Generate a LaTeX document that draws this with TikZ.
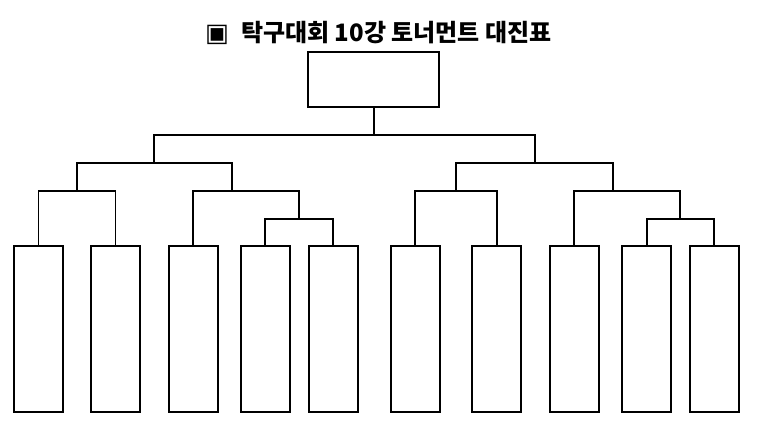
\documentclass[tikz,border=0pt]{standalone}
\usepackage{fontspec}
\newfontfamily\krfont{Noto Sans CJK KR}
\newfontfamily\symfont{DejaVu Sans}
\begin{document}
\begin{tikzpicture}[x=0.75pt,y=-0.75pt,
  line width=1.4pt,
  leaf/.style={draw=black,rectangle,inner sep=0pt,minimum width=36.75pt,minimum height=124.5pt},
  topbox/.style={draw=black,rectangle,inner sep=0pt,minimum width=98.25pt,minimum height=41.25pt},
  wire/.style={draw=black,line width=1.4pt},
  titlefont/.style={font=\krfont\bfseries\fontsize{18}{20}\selectfont}]
\fill[white] (0,0) rectangle (773,429);
\useasboundingbox (0,0) rectangle (773,429);
% title
\node[titlefont,anchor=center,inner sep=0pt] (title) at (378.5,33) {{\symfont\fontsize{19}{20}\selectfont ▣}\hspace{9pt}탁구대회 10강 토너먼트 대진표};
% top box
\node[topbox] (T) at (373.8,79.8) {};
% leaf boxes
\node[leaf] (L1) at (38.5,329.2) {};
\node[leaf] (L2) at (115.5,329.2) {};
\node[leaf] (L3) at (193.2,329.2) {};
\node[leaf] (L4) at (265.3,329.2) {};
\node[leaf] (L5) at (333.2,329.2) {};
\node[leaf] (R1) at (415.2,329.2) {};
\node[leaf] (R2) at (496.8,329.2) {};
\node[leaf] (R3) at (574.1,329.2) {};
\node[leaf] (R4) at (646.6,329.2) {};
\node[leaf] (R5) at (714.1,329.2) {};
% junctions
\coordinate (jL4) at (299.3,218.7);
\coordinate (jL3a) at (77,191);
\coordinate (jL3b) at (231.7,191);
\coordinate (jL2) at (154,163.3);
\coordinate (jR4) at (680.3,218.7);
\coordinate (jR3a) at (456,191);
\coordinate (jR3b) at (613.3,191);
\coordinate (jR2) at (535.3,163.3);
\coordinate (jTop) at (T.south |- 0,135.3);
% left half
\draw[wire] (L4.north) |- (jL4) -| (L5.north);
\draw[wire] (L3.north) |- (jL3b) -| (jL4);
\draw[wire] (L1.north) |- (jL3a) -| (L2.north);
\draw[wire] (jL3a) |- (jL2) -| (jL3b);
% right half
\draw[wire] (R4.north) |- (jR4) -| (R5.north);
\draw[wire] (R3.north) |- (jR3b) -| (jR4);
\draw[wire] (R1.north) |- (jR3a) -| (R2.north);
\draw[wire] (jR3a) |- (jR2) -| (jR3b);
% final
\draw[wire] (jL2) |- (jTop) -| (jR2);
\draw[wire] (jTop) -- (T.south);
\end{tikzpicture}
\end{document}
